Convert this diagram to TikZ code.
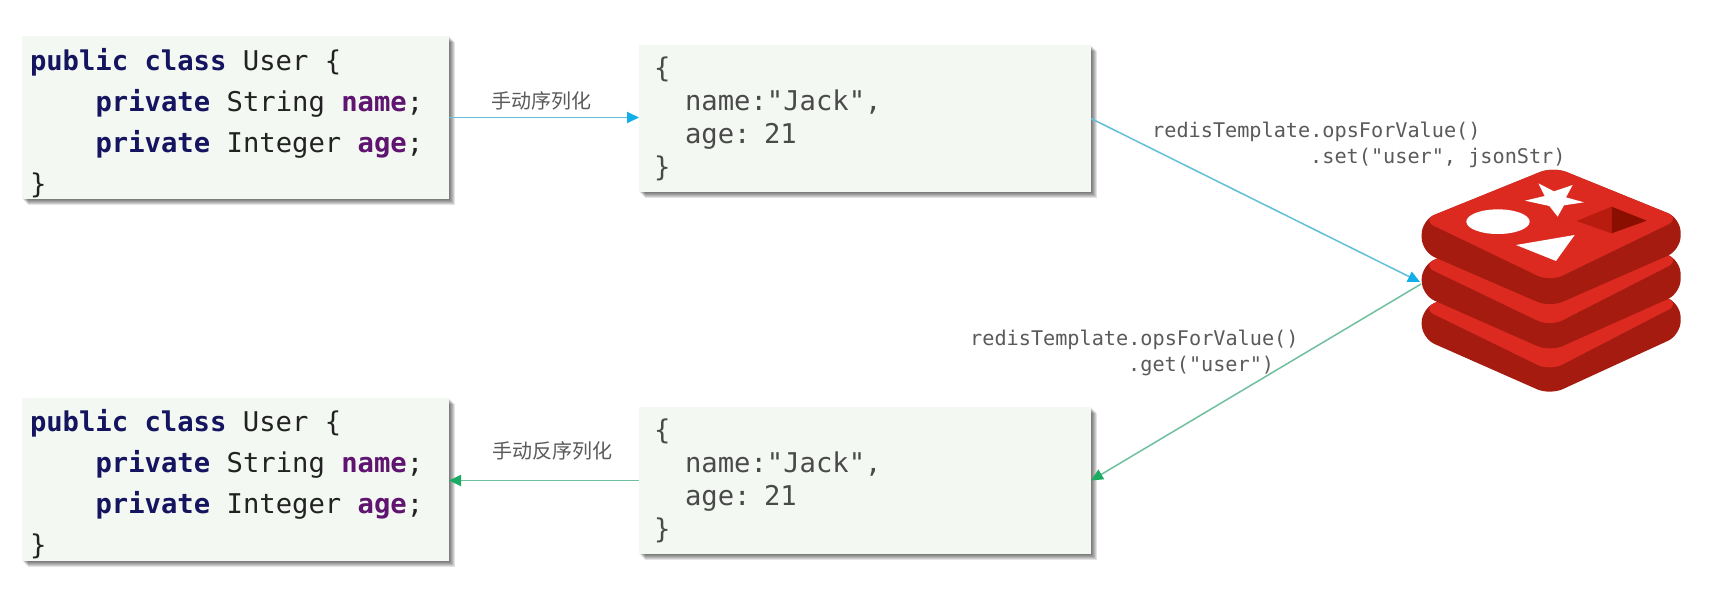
\documentclass[tikz,border=0pt]{standalone}
\usepackage{fontspec}
\usetikzlibrary{arrows.meta}
\newfontfamily\cjkfont{Noto Sans CJK SC}
\newfontfamily\codefont{DejaVu Sans Mono}
\definecolor{boxfill}{HTML}{F4F8F3}
\definecolor{kwcol}{HTML}{14145F}
\definecolor{fieldcol}{HTML}{5F1470}
\definecolor{plaincol}{HTML}{222222}
\definecolor{jsoncol}{HTML}{4A4A4A}
\definecolor{labelcol}{HTML}{5A5A5A}
\definecolor{bluetip}{HTML}{12AEE8}
\definecolor{blueline}{HTML}{62BEDA}
\definecolor{greentip}{HTML}{1CAB63}
\definecolor{greenline}{HTML}{6FC09E}
\definecolor{redlight}{HTML}{DC2A20}
\definecolor{reddark}{HTML}{A51B10}
\definecolor{redmid}{HTML}{B81C0E}
\definecolor{reddeep}{HTML}{8A0F00}
\newcommand{\kw}[1]{\textcolor{kwcol}{\bfseries #1}}
\newcommand{\fld}[1]{\textcolor{fieldcol}{\bfseries #1}}
\newcommand{\indcode}{\hspace*{65.6pt}}
\newcommand{\indlabel}{\hspace*{158pt}}
\tikzset{
  panel/.style={anchor=north west,fill=boxfill,draw=none,inner sep=0pt,outer sep=0pt,
    align=left},
  shadowlayer/.style={fill=black,fill opacity=0.11,draw=none},
  codebox/.style={panel,minimum width=427pt,minimum height=163pt,text width=427pt,
    text=plaincol,font=\codefont\fontsize{27.2}{41}\selectfont,
    execute at begin node={\spaceskip=16.4pt\relax}},
  jsonbox/.style={panel,minimum width=452pt,minimum height=147pt,text width=452pt,
    text=jsoncol,font=\codefont\fontsize{27.2}{33}\selectfont,
    execute at begin node={\spaceskip=16.4pt\relax}},
  codelabel/.style={anchor=north west,inner sep=0pt,align=left,text=labelcol,
    font=\codefont\fontsize{20.2}{26}\selectfont,
    execute at begin node={\spaceskip=12.16pt\relax}},
  cnlabel/.style={inner sep=0pt,text=labelcol,font=\cjkfont\fontsize{20}{24}\selectfont},
  bluearrow/.style={draw=blueline,line width=1.5pt,-{Triangle[length=12pt,width=11pt,color=bluetip]}},
  greenarrow/.style={draw=greenline,line width=1.5pt,-{Triangle[length=12pt,width=11pt,color=greentip]}},
  levelline/.style={line width=1.8pt},
}
\newcommand{\boxshadow}[4]{%
  \foreach \s in {1,2,3,4,5,6}{
    \fill[shadowlayer] ({#1+\s},{#2+\s}) rectangle ({#3+\s},{#4+\s});
  }}
\begin{document}
\begin{tikzpicture}[x=1pt,y=-1pt]
\useasboundingbox (0,0) rectangle (1715,592);
\fill[white] (0,0) rectangle (1715,592);
% shadows
\boxshadow{22}{36}{449}{199}
\boxshadow{639}{45}{1091}{192}
\boxshadow{22}{398}{449}{561}
\boxshadow{639}{407}{1091}{554}
% boxes
\node[codebox] (userA) at (22,36) {\hspace*{8pt}\kw{public class} User \{\\
\hspace*{8pt}\indcode\kw{private} String \fld{name};\\
\hspace*{8pt}\indcode\kw{private} Integer \fld{age};\\
\hspace*{8pt}\}\par\vspace{-12pt}};
\node[jsonbox] (jsonA) at (639,45) {\hspace*{15pt}\{\\
\hspace*{46pt}name:"Jack",\\
\hspace*{46pt}age: 21\\
\hspace*{15pt}\}};
\node[codebox] (userB) at (22,398) {\hspace*{8pt}\kw{public class} User \{\\
\hspace*{8pt}\indcode\kw{private} String \fld{name};\\
\hspace*{8pt}\indcode\kw{private} Integer \fld{age};\\
\hspace*{8pt}\}\par\vspace{-10pt}};
\node[jsonbox] (jsonB) at (639,407) {\hspace*{15pt}\{\\
\hspace*{46pt}name:"Jack",\\
\hspace*{46pt}age: 21\\
\hspace*{15pt}\}};
% redis logo
\begin{scope}[shift={(1410,170)},x=0.3333pt,y=-0.3333pt]
  \fill[reddark,rounded corners=14pt] (35,415)--(35,505)--(420,675)--(812,495)--(812,400)--(430,250)--cycle;
  \fill[redlight,rounded corners=14pt] (35,415)--(430,250)--(812,400)--(420,603)--cycle;
  \fill[reddark,rounded corners=14pt] (35,285)--(35,375)--(420,545)--(812,370)--(812,270)--(430,120)--cycle;
  \fill[redlight,rounded corners=14pt] (35,285)--(430,120)--(812,270)--(420,470)--cycle;
  \fill[reddark,rounded corners=14pt] (35,150)--(35,245)--(420,412)--(812,240)--(812,145)--(430,-10)--cycle;
  \fill[redlight,rounded corners=14pt] (35,150)--(430,-10)--(812,145)--(420,335)--cycle;
  \fill[white] (264,155) ellipse [x radius=95,y radius=37];
  \fill[white] (385,40)--(432,64)--(488,45)--(468,82)--(522,97)--(462,106)--(443,140)--(418,108)--(345,92)--(404,78)--cycle;
  \fill[white] (318,225)--(494,195)--(438,273)--cycle;
  \fill[redmid] (500,153)--(605,110)--(605,190)--cycle;
  \fill[reddeep] (605,110)--(710,152)--(605,190)--cycle;
\end{scope}
\coordinate (redisIn) at (1420,282);
\coordinate (redisOut) at (1421,284);
% connectors
\draw[bluearrow,levelline] (userA.east) -- (userA.east -| jsonA.west);
\draw[bluearrow] (jsonA.east) -- (redisIn);
\draw[greenarrow] (redisOut) -- (jsonB.east);
\draw[greenarrow,levelline] (jsonB.west) -- (jsonB.west -| userB.east);
% labels
\node[cnlabel] (serLabel) at (541,101) {手动序列化};
\node[cnlabel] (deLabel) at (552,451) {手动反序列化};
\node[codelabel] (setLabel) at (1152,122) {redisTemplate.opsForValue()\\\indlabel.set("user", jsonStr)};
\node[codelabel] (getLabel) at (970,330) {redisTemplate.opsForValue()\\\indlabel.get("user")};
\end{tikzpicture}
\end{document}
